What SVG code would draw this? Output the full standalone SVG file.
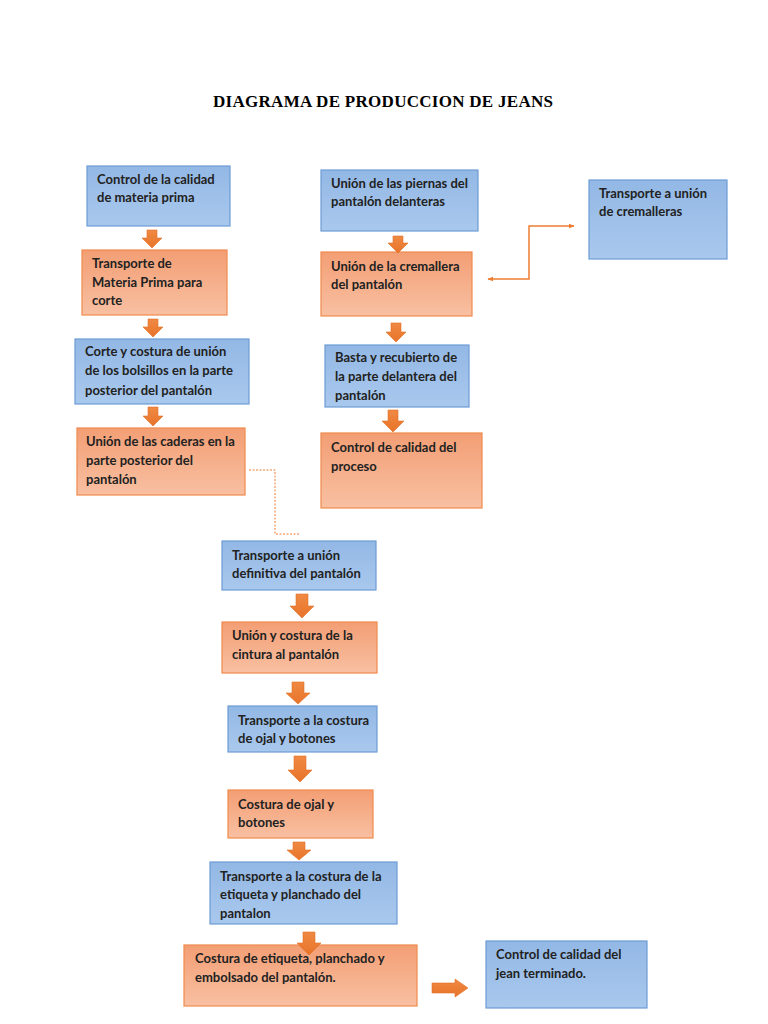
<svg xmlns="http://www.w3.org/2000/svg" width="768" height="1024" viewBox="0 0 768 1024">
<defs>
<linearGradient id="gb" x1="0" y1="0" x2="0" y2="1">
<stop offset="0" stop-color="#93b8e5"/>
<stop offset="1" stop-color="#a9c8ed"/>
</linearGradient>
<linearGradient id="go" x1="0" y1="0" x2="0" y2="1">
<stop offset="0" stop-color="#f39e74"/>
<stop offset="1" stop-color="#f8c0a2"/>
</linearGradient>
<linearGradient id="ga" x1="0" y1="0" x2="0" y2="1">
<stop offset="0" stop-color="#f08a43"/>
<stop offset="1" stop-color="#e8732a"/>
</linearGradient>
<marker id="ah" viewBox="0 0 10 10" refX="9" refY="5" markerWidth="6" markerHeight="6" orient="auto-start-reverse" markerUnits="userSpaceOnUse">
<path d="M0,1 L10,5 L0,9 z" fill="#ed7d31"/>
</marker>
<style>
.b{fill:url(#gb);stroke:#6d9cd6;stroke-width:1.2}
.o{fill:url(#go);stroke:#f08a4b;stroke-width:1.2}
.t{font-family:Lato,"Open Sans",sans-serif;font-weight:bold;font-size:13px;fill:#222}
.ar{fill:url(#ga);stroke:#e07026;stroke-width:0.6}
.title{font-family:"Liberation Serif",serif;font-weight:bold;font-size:17px;fill:#000}
</style>
</defs>
<rect width="768" height="1024" fill="#fff"/>
<text class="title" x="383" y="107" text-anchor="middle" textLength="340" lengthAdjust="spacing">DIAGRAMA DE PRODUCCION DE JEANS</text>

<g id="n1"><rect class="b" x="87" y="166" width="143" height="60"/><text class="t" x="97" y="184">Control de la calidad</text><text class="t" x="97" y="202">de materia prima</text></g>
<g id="n2"><rect class="o" x="82" y="250" width="145" height="65"/><text class="t" x="92" y="268">Transporte de</text><text class="t" x="92" y="287">Materia Prima para</text><text class="t" x="92" y="305">corte</text></g>
<g id="n3"><rect class="b" x="75" y="339" width="174" height="65"/><text class="t" x="85" y="356">Corte y costura de unión</text><text class="t" x="85" y="375">de los bolsillos en la parte</text><text class="t" x="85" y="395">posterior del pantalón</text></g>
<g id="n4"><rect class="o" x="77" y="428" width="168" height="67"/><text class="t" x="86" y="446">Unión de las caderas en la</text><text class="t" x="86" y="465">parte posterior del</text><text class="t" x="86" y="484">pantalón</text></g>
<g id="n5"><rect class="b" x="321" y="170" width="157" height="61"/><text class="t" x="331" y="188">Unión de las piernas del</text><text class="t" x="331" y="206">pantalón delanteras</text></g>
<g id="n6"><rect class="o" x="321" y="252" width="151" height="64"/><text class="t" x="331" y="271">Unión de la cremallera</text><text class="t" x="331" y="289">del pantalón</text></g>
<g id="n7"><rect class="b" x="325" y="345" width="144" height="62"/><text class="t" x="335" y="362">Basta y recubierto de</text><text class="t" x="335" y="381">la parte delantera del</text><text class="t" x="335" y="400">pantalón</text></g>
<g id="n8"><rect class="o" x="321" y="433" width="161" height="75"/><text class="t" x="331" y="452">Control de calidad del</text><text class="t" x="331" y="471">proceso</text></g>
<g id="n9"><rect class="b" x="589" y="180" width="138" height="79"/><text class="t" x="599" y="198">Transporte a unión</text><text class="t" x="599" y="216">de cremalleras</text></g>
<g id="n10"><rect class="b" x="222" y="541" width="154" height="49"/><text class="t" x="232" y="560">Transporte a unión</text><text class="t" x="232" y="578">definitiva del pantalón</text></g>
<g id="n11"><rect class="o" x="222" y="622" width="155" height="51"/><text class="t" x="232" y="640">Unión y costura de la</text><text class="t" x="232" y="659">cintura al pantalón</text></g>
<g id="n12"><rect class="b" x="228" y="706" width="149" height="46"/><text class="t" x="238" y="725">Transporte a la costura</text><text class="t" x="238" y="743">de ojal y botones</text></g>
<g id="n13"><rect class="o" x="228" y="790" width="145" height="48"/><text class="t" x="238" y="809">Costura de ojal y</text><text class="t" x="238" y="827">botones</text></g>
<g id="n14"><rect class="b" x="210" y="862" width="187" height="62"/><text class="t" x="220" y="881">Transporte a la costura de la</text><text class="t" x="220" y="899">etiqueta y planchado del</text><text class="t" x="220" y="918">pantalon</text></g>
<g id="n15"><rect class="o" x="184" y="945" width="233" height="61"/><text class="t" x="195" y="963">Costura de etiqueta, planchado y</text><text class="t" x="195" y="982">embolsado del pantalón.</text></g>
<g id="n16"><rect class="b" x="486" y="941" width="161" height="67"/><text class="t" x="496" y="959">Control de calidad del</text><text class="t" x="496" y="978">jean terminado.</text></g>

<g id="connectors">
<polygon class="ar" points="147,230 157,230 157,238 162,238 152,248 142,238 147,238"/>
<polygon class="ar" points="148,319 158,319 158,327 163,327 153,337 143,327 148,327"/>
<polygon class="ar" points="148,407 158,407 158,416 163,416 153,426 143,416 148,416"/>
<polygon class="ar" points="393,236 403,236 403,243 408,243 398,253 388,243 393,243"/>
<polygon class="ar" points="391,323 401,323 401,332 406,332 396,342 386,332 391,332"/>
<polygon class="ar" points="388,410 398,410 398,421 404,421 393,432 382,421 388,421"/>
<polygon class="ar" points="296,594 308,594 308,606 314,606 302,618 290,606 296,606"/>
<polygon class="ar" points="292,682 304,682 304,693 310,693 298,704 286,693 292,693"/>
<polygon class="ar" points="294,756 306,756 306,770 312,770 300,782 288,770 294,770"/>
<polygon class="ar" points="293,842 305,842 305,850 311,850 299,860 287,850 293,850"/>
<polygon class="ar" points="303,932 315,932 315,943 321,943 309,955 297,943 303,943"/>
<polygon class="ar" points="432,983 455,983 455,979 468,988 455,997 455,993 432,993"/>
<polyline points="488,279 529,279 529,226 574,226" fill="none" stroke="#ed7d31" stroke-width="1.5" marker-start="url(#ah)" marker-end="url(#ah)"/>
<polyline points="249,470 275,470 275,534 300,534" fill="none" stroke="#ed7d31" stroke-width="1" stroke-dasharray="2,1.5"/>
</g>
</svg>
